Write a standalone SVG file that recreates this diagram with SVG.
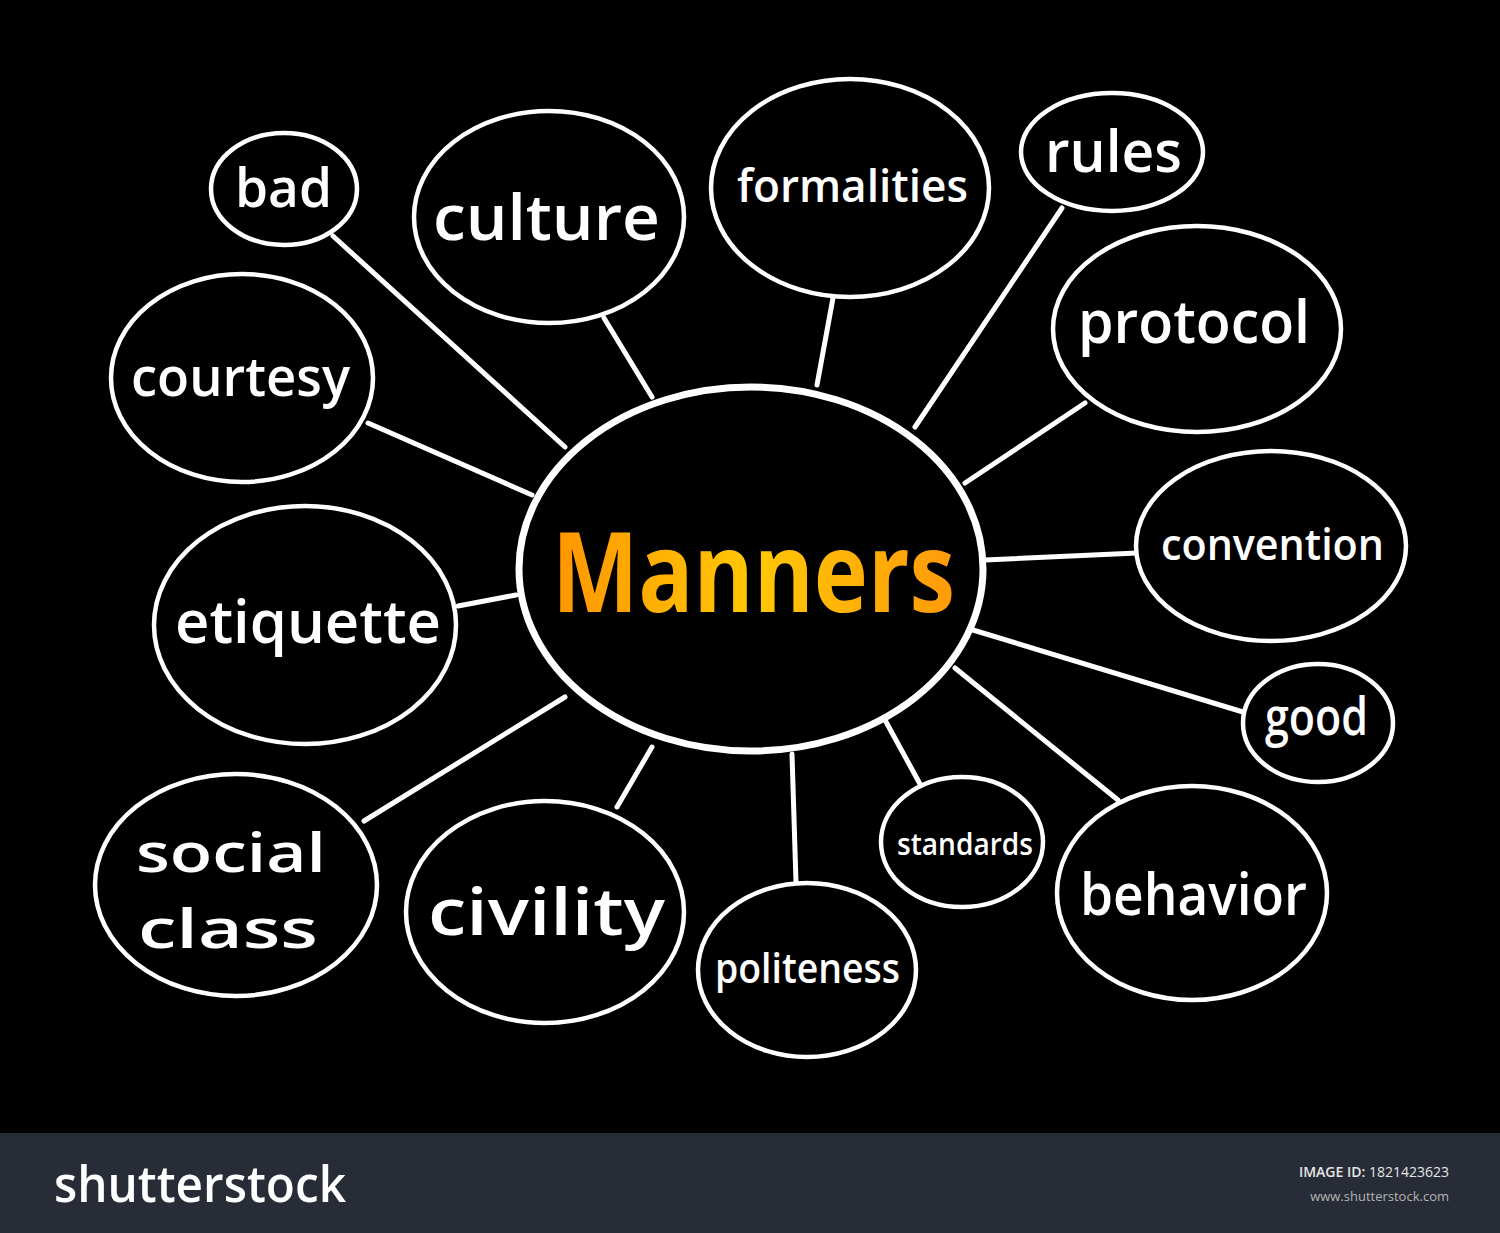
<svg xmlns="http://www.w3.org/2000/svg" width="1500" height="1233" viewBox="0 0 1500 1233">
<defs>
<linearGradient id="mg" x1="552" y1="0" x2="955" y2="0" gradientUnits="userSpaceOnUse">
<stop offset="0" stop-color="#ff9500"/>
<stop offset="0.5" stop-color="#ffc805"/>
<stop offset="1" stop-color="#ff9a0a"/>
</linearGradient>
<style>
.n{fill:#000;stroke:#fff;stroke-width:4.5}
.c{stroke:#fff;stroke-width:5;stroke-linecap:round}
.t{fill:#fff;font-family:"Open Sans","Noto Sans",sans-serif;font-weight:600}
</style>
</defs>
<rect x="0" y="0" width="1500" height="1233" fill="#000"/>
<g id="connectors">
<line class="c" x1="333" y1="236" x2="565" y2="447"/>
<line class="c" x1="604" y1="318" x2="652" y2="397"/>
<line class="c" x1="833" y1="298" x2="817" y2="385"/>
<line class="c" x1="1062" y1="208" x2="915" y2="427"/>
<line class="c" x1="1085" y1="403" x2="965" y2="483"/>
<line class="c" x1="1137" y1="553" x2="985" y2="560"/>
<line class="c" x1="1243" y1="712" x2="973" y2="630"/>
<line class="c" x1="1118" y1="800" x2="955" y2="668"/>
<line class="c" x1="920" y1="784" x2="885" y2="720"/>
<line class="c" x1="796" y1="882" x2="792" y2="754"/>
<line class="c" x1="617" y1="807" x2="652" y2="747"/>
<line class="c" x1="364" y1="821" x2="565" y2="697"/>
<line class="c" x1="458" y1="606" x2="516" y2="595"/>
<line class="c" x1="368" y1="423" x2="532" y2="495"/>
</g>
<g id="center">
<ellipse cx="751" cy="569" rx="232" ry="182" fill="#000" stroke="#fff" stroke-width="7"/>
<text x="552" y="612" font-family="'Open Sans','Noto Sans',sans-serif" font-weight="700" font-size="112" fill="url(#mg)" textLength="403" lengthAdjust="spacingAndGlyphs">Manners</text>
</g>
<g id="bad"><ellipse class="n" cx="284" cy="189" rx="73" ry="56"/><text class="t" x="235" y="207" font-size="54" textLength="97" lengthAdjust="spacingAndGlyphs">bad</text></g>
<g id="culture"><ellipse class="n" cx="549" cy="217" rx="135" ry="106"/><text class="t" x="433" y="240" font-size="64" textLength="227" lengthAdjust="spacingAndGlyphs">culture</text></g>
<g id="formalities"><ellipse class="n" cx="850" cy="188" rx="139" ry="109"/><text class="t" x="737" y="202" font-size="46" textLength="231" lengthAdjust="spacingAndGlyphs">formalities</text></g>
<g id="rules"><ellipse class="n" cx="1112" cy="152" rx="91" ry="59"/><text class="t" x="1045" y="172" font-size="58" textLength="137" lengthAdjust="spacingAndGlyphs">rules</text></g>
<g id="protocol"><ellipse class="n" cx="1197" cy="329" rx="144" ry="103"/><text class="t" x="1078" y="343" font-size="60" textLength="232" lengthAdjust="spacingAndGlyphs">protocol</text></g>
<g id="convention"><ellipse class="n" cx="1271" cy="546" rx="135" ry="95"/><text class="t" x="1161" y="560" font-size="44" textLength="223" lengthAdjust="spacingAndGlyphs">convention</text></g>
<g id="good"><ellipse class="n" cx="1318" cy="723" rx="75" ry="59"/><text class="t" x="1265" y="735" font-size="52" textLength="103" lengthAdjust="spacingAndGlyphs">good</text></g>
<g id="behavior"><ellipse class="n" cx="1192" cy="893" rx="135" ry="107"/><text class="t" x="1080" y="915" font-size="58" textLength="227" lengthAdjust="spacingAndGlyphs">behavior</text></g>
<g id="standards"><ellipse class="n" cx="962" cy="842" rx="81" ry="65"/><text class="t" x="897" y="855" font-size="31" textLength="136" lengthAdjust="spacingAndGlyphs">standards</text></g>
<g id="politeness"><ellipse class="n" cx="807" cy="970" rx="109" ry="87"/><text class="t" x="715" y="983" font-size="42" textLength="185" lengthAdjust="spacingAndGlyphs">politeness</text></g>
<g id="civility"><ellipse class="n" cx="545" cy="912" rx="139" ry="111"/><text class="t" x="428" y="935" font-size="66" textLength="237" lengthAdjust="spacingAndGlyphs">civility</text></g>
<g id="social-class"><ellipse class="n" cx="236" cy="885" rx="141" ry="111"/><text class="t" x="136" y="872" font-size="54" textLength="190" lengthAdjust="spacingAndGlyphs">social</text><text class="t" x="138" y="948" font-size="54" textLength="180" lengthAdjust="spacingAndGlyphs">class</text></g>
<g id="etiquette"><ellipse class="n" cx="305" cy="625" rx="151" ry="119"/><text class="t" x="175" y="643" font-size="60" textLength="266" lengthAdjust="spacingAndGlyphs">etiquette</text></g>
<g id="courtesy"><ellipse class="n" cx="242" cy="378" rx="131" ry="104"/><text class="t" x="131" y="396" font-size="54" textLength="219" lengthAdjust="spacingAndGlyphs">courtesy</text></g>
<g id="footer">
<rect x="0" y="1133" width="1500" height="100" fill="#272c36"/>
<text x="54" y="1202" font-family="'Open Sans','Noto Sans',sans-serif" font-weight="600" font-size="50" fill="#fff" textLength="292" lengthAdjust="spacingAndGlyphs">shutterstock</text>
<text x="1449" y="1177" text-anchor="end" font-family="'Open Sans','Noto Sans',sans-serif" font-size="14" fill="#e6e6e6"><tspan font-weight="600">IMAGE ID:</tspan> 1821423623</text>
<text x="1449" y="1201" text-anchor="end" font-family="'Open Sans','Noto Sans',sans-serif" font-size="13" fill="#b4b4b4">www.shutterstock.com</text>
</g>
</svg>
